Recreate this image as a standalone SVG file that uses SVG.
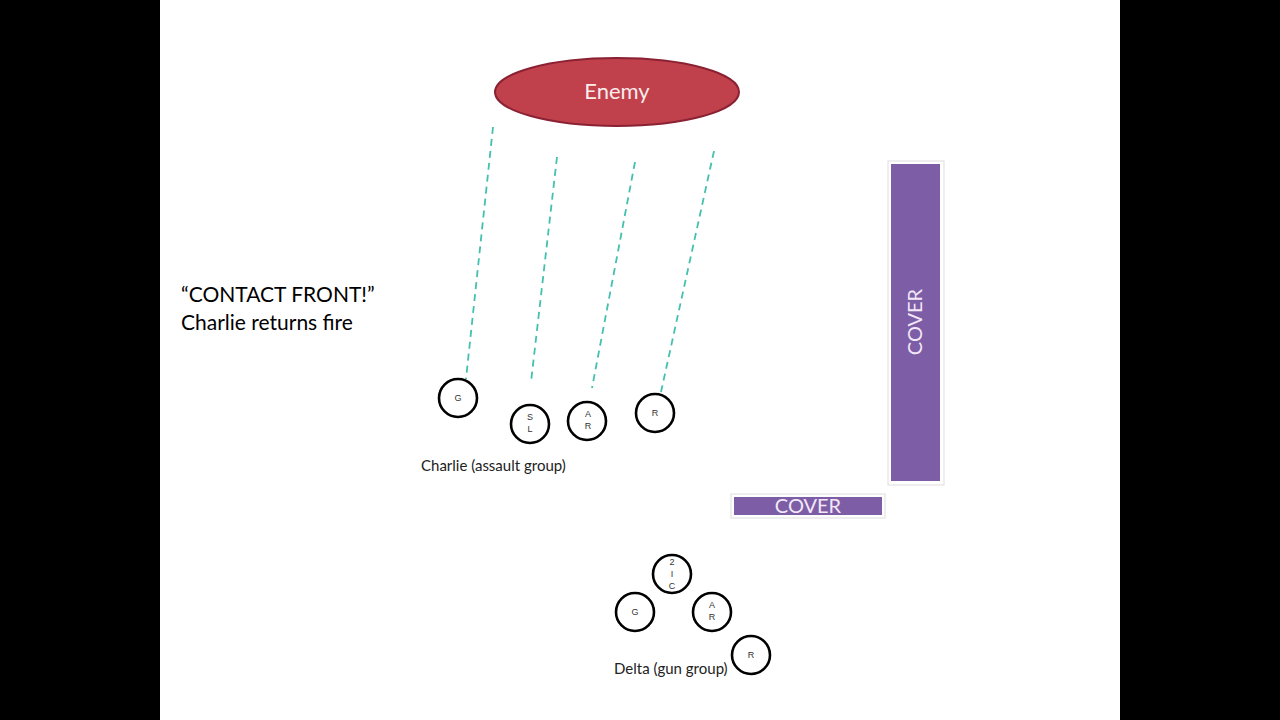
<svg xmlns="http://www.w3.org/2000/svg" width="1280" height="720" viewBox="0 0 1280 720">
<style>
.man{fill:#fff;stroke:#000;stroke-width:2.6}
.lt{font-family:"Liberation Sans",Arial,sans-serif;font-size:9px;fill:#333;text-anchor:middle}
.lbl{font-family:Lato,"Liberation Sans",sans-serif;font-size:15px;fill:#222}
.fire{stroke:#44c0ae;stroke-width:1.8;stroke-dasharray:7,5;fill:none}
.cover{fill:#7d5ea6}
.ct{font-family:Lato,"Liberation Sans",sans-serif;font-size:20px;fill:#f3e8f8;text-anchor:middle}
</style>
<rect x="0" y="0" width="1280" height="720" fill="#000"/>
<rect x="160" y="0" width="960" height="720" fill="#fff"/>
<g id="enemy">
<ellipse cx="617" cy="92" rx="122" ry="34" fill="#c0404b" stroke="#8a2233" stroke-width="2"/>
<text x="617" y="99" font-family="Lato,'Liberation Sans',sans-serif" font-size="22" fill="#fbecec" text-anchor="middle">Enemy</text>
</g>
<g id="connectors">
<line class="fire" x1="493" y1="127" x2="466" y2="379"/>
<line class="fire" x1="557" y1="157" x2="531" y2="382"/>
<line class="fire" x1="635" y1="162" x2="592" y2="388"/>
<line class="fire" x1="714" y1="151" x2="661" y2="392"/>
</g>
<g id="caption">
<text x="181" y="302" font-family="Lato,'Liberation Sans',sans-serif" font-size="21" fill="#000">“CONTACT FRONT!”</text>
<text x="181" y="330" font-family="Lato,'Liberation Sans',sans-serif" font-size="21" fill="#000">Charlie returns fire</text>
</g>
<g id="cover-vertical">
<rect x="888" y="161" width="56" height="324" fill="#fff" stroke="#ddd" stroke-width="1"/>
<rect class="cover" x="891" y="164" width="49" height="317"/>
<text class="ct" transform="translate(922,322) rotate(-90)">COVER</text>
</g>
<g id="cover-horizontal">
<rect x="731" y="494" width="154" height="24" fill="#fff" stroke="#ddd" stroke-width="1"/>
<rect class="cover" x="734" y="497" width="148" height="18"/>
<text class="ct" x="808" y="513">COVER</text>
</g>
<g id="charlie-g"><circle class="man" cx="458" cy="398" r="19"/><text class="lt" x="458" y="401">G</text></g>
<g id="charlie-sl"><circle class="man" cx="530" cy="424" r="19"/><text class="lt" x="530" y="420">S</text><text class="lt" x="530" y="432">L</text></g>
<g id="charlie-ar"><circle class="man" cx="587" cy="421" r="19"/><text class="lt" x="588" y="417">A</text><text class="lt" x="588" y="429">R</text></g>
<g id="charlie-r"><circle class="man" cx="655" cy="413" r="19"/><text class="lt" x="655" y="416">R</text></g>
<g id="charlie-label"><text class="lbl" x="421" y="471">Charlie (assault group)</text></g>
<g id="delta-2ic"><circle class="man" cx="672" cy="574" r="19"/><text class="lt" x="672" y="565">2</text><text class="lt" x="672" y="577">I</text><text class="lt" x="672" y="589">C</text></g>
<g id="delta-g"><circle class="man" cx="635" cy="612" r="19"/><text class="lt" x="635" y="615">G</text></g>
<g id="delta-ar"><circle class="man" cx="712" cy="612" r="19"/><text class="lt" x="712" y="608">A</text><text class="lt" x="712" y="620">R</text></g>
<g id="delta-r"><circle class="man" cx="751" cy="655" r="19"/><text class="lt" x="751" y="658">R</text></g>
<g id="delta-label"><text class="lbl" x="614" y="674">Delta (gun group)</text></g>
</svg>
